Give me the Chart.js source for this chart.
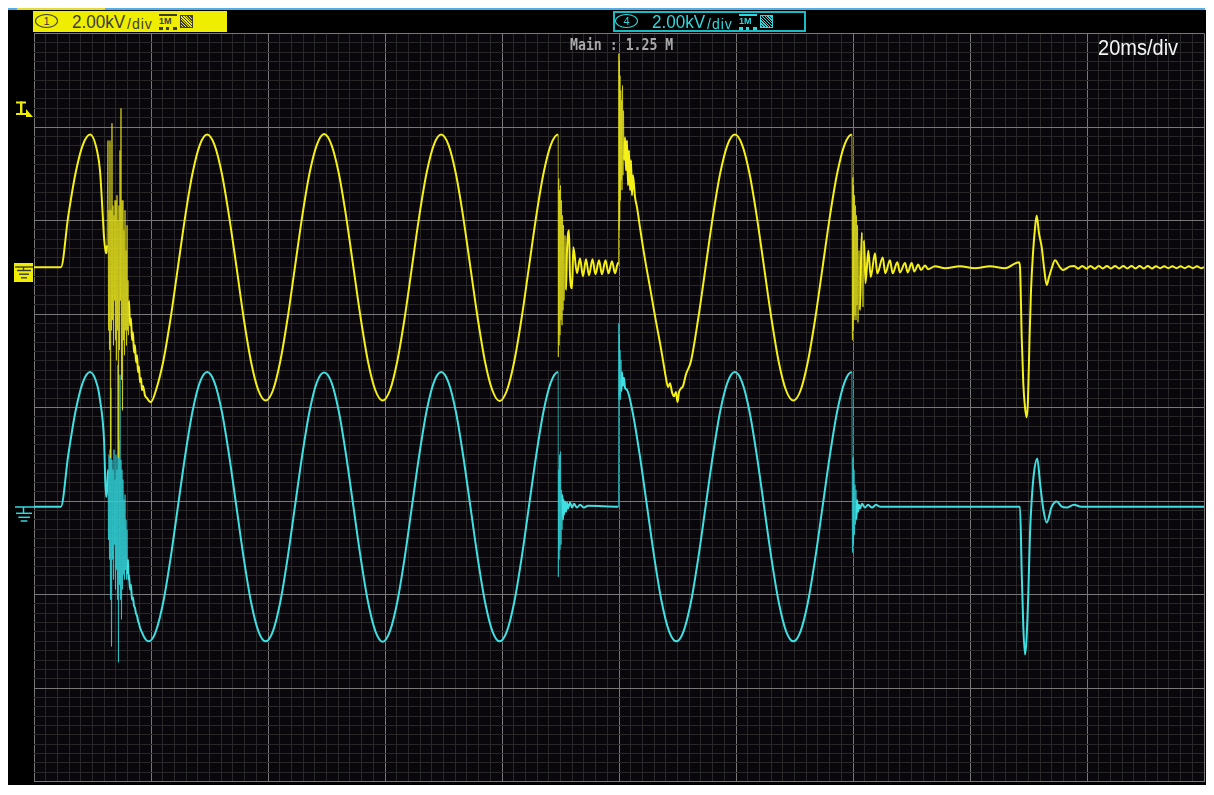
<!DOCTYPE html>
<html>
<head>
<meta charset="utf-8">
<script src="https://cdn.jsdelivr.net/npm/chart.js@4.4.1/dist/chart.umd.min.js"></script>
<style>
  html, body { margin: 0; padding: 0; background: #fff; }
  body { position: relative; width: 1214px; height: 795px; overflow: hidden; font-family: "Liberation Sans", Arial, sans-serif; }
  .abs { position: absolute; }
  #frame { left: 8px; top: 10px; width: 1198px; height: 775px; background: #000; }
  #topline { left: 8px; top: 8px; width: 1197px; height: 2px; background: #55ade6; }
  #topline1 { left: 17px; top: 8px; width: 88px; height: 2px; background: #e4dc3c; }
  #wrap { left: 0; top: 0; width: 1214px; height: 795px; }
  .chbox { top: 11px; height: 21px; z-index: 2; }
  .chbox span { position: absolute; white-space: nowrap; }
  .ch1 { left: 33px; width: 194px; background: #f0ee00; color: #3c3c3c; }
  .ch4 { left: 613px; width: 193px; box-shadow: inset 0 0 0 2px #19bcc4; color: #30d8de; }
  .circ { left: 2px; top: 3px; width: 21px; height: 12px; border: 1.5px solid currentColor; border-radius: 50%;
          font-size: 11px; line-height: 12px; text-align: center; }
  .vdiv { left: 39px; top: 1px; font-size: 19px; line-height: 19px; transform: scaleX(0.9); transform-origin: left; }
  .per { left: 94px; top: 6px; font-size: 14px; line-height: 14px; letter-spacing: 1px; }
  .imp { left: 126px; top: 3px; width: 18px; height: 11px; font-size: 9px; font-weight: bold; line-height: 11px;
         border-top: 2px solid currentColor; border-bottom: 3px dotted currentColor; text-align: left; }
  .bw { left: 147px; top: 4px; width: 11px; height: 11px; border: 1px solid currentColor;
        background: repeating-linear-gradient(45deg, currentColor 0 1px, transparent 1px 2px); }
  #mainlbl { left: 570px; top: 38px; font-family: "DejaVu Sans Mono", monospace; font-weight: bold; font-size: 15px;
             line-height: 15px; color: #a8a8a8; transform: scaleX(0.88); transform-origin: left; z-index: 2; white-space: pre; }
  #tdiv { left: 1098px; top: 37px; font-size: 22px; line-height: 22px; color: #f4f4f4;
          transform: scaleX(0.91); transform-origin: left; z-index: 2; }
  #marks { left: 0; top: 0; z-index: 2; }
</style>
</head>
<body>
<div id="frame" class="abs"></div>
<div id="topline" class="abs"></div>
<div id="topline1" class="abs"></div>
<div id="wrap" class="abs"><canvas id="scope"></canvas></div>

<div class="abs chbox ch1"><span class="circ">1</span><span class="vdiv">2.00kV</span><span class="per">/div</span><span class="imp">1M</span><span class="bw"></span></div>
<div class="abs chbox ch4"><span class="circ">4</span><span class="vdiv">2.00kV</span><span class="per">/div</span><span class="imp">1M</span><span class="bw"></span></div>
<div id="mainlbl" class="abs">Main : 1.25 M</div>
<div id="tdiv" class="abs">20ms/div</div>

<svg id="marks" class="abs" width="34" height="795">
  <!-- trigger level -->
  <g fill="#f0ee00">
    <rect x="16" y="101.5" width="10" height="2"/>
    <rect x="20" y="101.5" width="2.4" height="13"/>
    <rect x="16" y="113" width="12" height="2"/>
    <polygon points="26,109 26,117 33,117"/>
  </g>
  <!-- CH1 ground -->
  <rect x="14" y="263" width="19" height="19" fill="#f0ee00"/>
  <g stroke="#3a3a3a" stroke-width="1.4">
    <line x1="15" y1="267" x2="33" y2="267"/>
    <line x1="23.5" y1="267" x2="23.5" y2="270"/>
    <line x1="17" y1="270.5" x2="31" y2="270.5"/>
    <line x1="19" y1="274.2" x2="29" y2="274.2"/>
    <line x1="21" y1="277.8" x2="27" y2="277.8"/>
  </g>
  <!-- CH4 ground -->
  <g stroke="#30d8de" stroke-width="1.5">
    <line x1="15" y1="507" x2="34" y2="507"/>
    <line x1="23.5" y1="507" x2="23.5" y2="513"/>
    <line x1="16" y1="513.3" x2="32" y2="513.3"/>
    <line x1="18.3" y1="517.3" x2="30" y2="517.3"/>
    <line x1="20.7" y1="521" x2="27.3" y2="521"/>
  </g>
</svg>

<script>
// scope settings
const timePerDiv = 20;   // ms/div
const voltsPerDiv = 2;   // kV/div
const hDivs = 10;
const vDivs = 8;
const ch1Position = 1.5;   // div above centre
const ch4Position = -1.06;

// CH1 (yellow) : [ms, kV]
const ch1Trace = [
  [0, 0], [4.6, 0],
  // first half cycle before the arc
  [5.85, 1.09], [7.1, 2.01], [8.35, 2.62], [9.6, 2.84], [10.85, 2.45], [11.28, 2.07], [11.8, 1.0], [11.97, 0.64], [12.31, 0.3], [12.48, 0.47],
  // arc burst
  [12.65, 2.71], [12.74, -1.35], [12.82, 1.22], [12.91, -1.77], [12.99, 2.71], [13.08, -4.08], [13.16, 1.22], [13.25, -1.35],
  [13.33, 3.08], [13.42, -1.13], [13.5, 1.32], [13.59, -1.67], [13.68, 1.11], [13.76, -0.71], [13.85, 1.43], [13.93, -1.56],
  [14.02, 1.43], [14.1, -1.99], [14.19, 1.54], [14.27, -1.35], [14.36, 1.0], [14.44, -4.08], [14.53, 1.32], [14.62, -1.77],
  [14.7, 2.5], [14.79, -0.71], [14.87, 3.4], [14.96, -2.41], [15.04, 1.43], [15.13, -3.06], [15.21, 1.43], [15.3, -1.56],
  [15.38, 0.79], [15.47, -1.88], [15.56, 1.22], [15.64, -1.35], [15.73, 0.36], [15.81, -1.67], [15.9, 0.9], [15.98, -1.35],
  [16.07, -0.28], [16.15, -1.45], [16.24, -0.71], [16.41, -1.24],
  [16.58, -1.09], [16.75, -1.56], [16.92, -1.39], [17.09, -1.82], [17.26, -1.67], [17.44, -2.03], [17.61, -1.88], [17.78, -2.24],
  [17.95, -2.12], [18.12, -2.46], [18.29, -2.37], [18.46, -2.63], [18.63, -2.54], [18.97, -2.74], [19.32, -2.8], [19.66, -2.86], [20.0, -2.88],
  // steady 50 Hz
  [20.85, -2.63], [22.1, -2.01], [23.35, -1.09], [24.6, 0], [25.85, 1.09], [27.1, 2.01], [28.35, 2.62], [29.6, 2.84],
  [30.85, 2.62], [32.1, 2.01], [33.35, 1.09], [34.6, 0.02], [35.85, -1.09], [37.1, -2.02], [38.35, -2.63], [39.6, -2.85],
  [40.85, -2.63], [42.1, -2.01], [43.35, -1.09], [44.6, 0], [45.85, 1.09], [47.1, 2.01], [48.35, 2.62], [49.6, 2.85],
  [50.85, 2.62], [52.1, 2.01], [53.35, 1.09], [54.6, 0], [55.85, -1.09], [57.1, -2.02], [58.35, -2.63], [59.6, -2.85],
  [60.85, -2.63], [62.1, -2.01], [63.35, -1.09], [64.6, 0], [65.85, 1.09], [67.1, 2.01], [68.35, 2.62], [69.6, 2.84],
  [70.85, 2.62], [72.1, 2.01], [73.35, 1.09], [74.6, 0], [75.85, -1.09], [77.1, -2.02], [78.35, -2.63], [79.6, -2.86],
  [80.85, -2.63], [82.1, -2.01], [83.35, -1.09], [84.6, 0], [85.85, 1.09], [87.1, 2.01], [88.35, 2.62], [89.6, 2.84],
  // opening + ringing
  [89.63, -1.92], [89.7, 1.9], [89.76, -1.67], [89.83, 1.65], [89.91, -1.45], [90.0, 1.75], [90.09, -1.13], [90.17, 1.43],
  [90.26, -1.24], [90.34, 1.11], [90.43, -0.92], [90.51, 0.9], [90.6, -0.71], [90.77, 0.68], [90.94, -0.49], [91.11, 0.36],
  [91.45, 0.79], [91.62, -0.17], [91.97, -0.45], [92.19, 0.43], [92.82, -0.13],
  [93.33, 0.19], [93.85, -0.19], [94.36, 0.17], [94.87, -0.17], [95.47, 0.17], [95.98, -0.15], [96.58, 0.15], [97.09, -0.15],
  [97.69, 0.15], [98.21, -0.13], [98.8, 0.13], [99.32, -0.13], [99.83, 0.09], [99.91, 0.06],
  // reclose
  [99.97, 4.57], [100.02, 0.79], [100.07, 4.42], [100.12, 1.0], [100.17, 4.1], [100.24, 1.43], [100.31, 3.78], [100.38, 1.86],
  [100.44, 3.57], [100.51, 1.65], [100.6, 3.89], [100.68, 1.97], [100.77, 3.35], [100.85, 2.29], [101.03, 2.78], [101.2, 2.07],
  [101.37, 2.71], [101.54, 1.75], [101.71, 2.5], [101.88, 1.65], [102.05, 2.29], [102.22, 1.54], [102.39, 1.97], [102.74, 1.5],
  [103.08, 1.28], [103.59, 0.85], [104.1, 0.43], [104.62, 0.04], [105.3, -0.43], [105.98, -0.92], [106.5, -1.28], [107.01, -1.62],
  [107.52, -1.99], [108.03, -2.37], [108.38, -2.56], [108.72, -2.48], [109.06, -2.67], [109.4, -2.76], [109.74, -2.67], [110.0, -2.88],
  [110.26, -2.67], [110.6, -2.59], [110.94, -2.54], [111.45, -2.29],
  [112.3, -2.01], [113.55, -1.09], [114.8, 0], [116.05, 1.09], [117.3, 2.01], [118.55, 2.62], [119.8, 2.84],
  [121.05, 2.62], [122.3, 2.01], [123.55, 1.09], [124.8, 0], [126.05, -1.09], [127.3, -2.02], [128.55, -2.63], [129.8, -2.85],
  [131.05, -2.63], [132.3, -2.01], [133.55, -1.09], [134.8, 0], [136.05, 1.09], [137.3, 2.01], [138.55, 2.62], [139.8, 2.84],
  // second opening
  [139.9, -1.56], [139.97, 1.92], [140.03, -1.35], [140.1, 1.75], [140.17, -1.13], [140.26, 1.54], [140.34, -1.03], [140.43, 1.32],
  [140.51, -1.13], [140.6, 1.11], [140.68, -0.81], [140.77, 0.9], [140.85, -1.18], [141.03, 0.36], [141.2, -0.92], [141.49, 0.75],
  [141.71, -0.85], [141.88, 0.58], [142.14, -0.34], [142.62, 0.36], [143.03, -0.21], [143.76, 0.3], [144.15, -0.13], [145.08, 0.21],
  [145.52, -0.13], [146.32, 0.15], [146.79, -0.13], [147.57, 0.11], [148.03, -0.11], [148.89, 0.09], [149.35, -0.11], [150.03, 0.09],
  [150.48, -0.09], [151.16, 0.06], [151.62, -0.06], [152.31, 0.04], [152.82, -0.04], [154.02, 0.02], [155.73, -0.02], [158.29, 0.02],
  [160.85, -0.02], [163.42, 0.02], [165.98, -0.02], [168.38, 0.11],
  // transient
  [168.55, 0], [168.84, -1.5], [169.11, -2.48], [169.4, -2.99], [169.69, -3.21], [169.91, -2.84], [170.17, -1.56], [170.43, -0.49],
  [170.77, 0.3], [171.11, 0.83], [171.4, 1.11], [171.79, 0.73], [172.26, 0.43], [172.65, 0], [173.11, -0.38], [173.5, -0.21],
  [173.97, -0.02], [174.53, 0.15], [175.38, 0], [175.9, -0.06], [177.09, 0.02],
  // residual ripple
  [177.8, 0.03], [178.5, -0.03], [179.2, 0.03], [179.9, -0.03], [180.6, 0.03], [181.3, -0.03], [182.0, 0.025], [182.7, -0.025],
  [183.4, 0.025], [184.1, -0.025], [184.8, 0.025], [185.5, -0.025], [186.2, 0.025], [186.9, -0.025], [187.6, 0.025], [188.3, -0.025],
  [189.0, 0.025], [189.7, -0.025], [190.4, 0.025], [191.1, -0.025], [191.8, 0.02], [192.5, -0.02], [193.2, 0.02], [193.9, -0.02],
  [194.6, 0.02], [195.3, -0.02], [196.0, 0.02], [196.7, -0.02], [197.4, 0.02], [198.1, -0.02], [198.8, 0.02], [199.5, -0.02], [200, 0]
];

// CH4 (cyan) : [ms, kV]
const ch4Trace = [
  [0, 0], [4.6, 0],
  [5.85, 1.1], [7.1, 2.04], [8.35, 2.66], [9.6, 2.88], [10.85, 2.58], [11.28, 2.29], [11.97, 1.43], [12.31, 0.21], [12.48, 0.32],
  // arc burst
  [12.65, 0.79], [12.74, -0.71], [12.82, 1.11], [12.91, -1.13], [12.99, 1.22], [13.08, -1.99], [13.16, 2.54], [13.25, -2.99],
  [13.33, 1.0], [13.42, -1.13], [13.5, 0.79], [13.59, -1.56], [13.68, 1.22], [13.76, -0.81], [13.85, 0.58], [13.93, -1.77],
  [14.02, 1.11], [14.1, -1.35], [14.19, 0.79], [14.27, -1.99], [14.36, 3.03], [14.44, -3.33], [14.53, 1.43], [14.62, -1.67],
  [14.7, 2.82], [14.79, -1.99], [14.87, 1.0], [14.96, -2.41], [15.04, 0.79], [15.13, -1.77], [15.21, 0.58], [15.3, -1.45],
  [15.38, 0.15], [15.47, -1.56], [15.56, 0.26], [15.64, -1.35], [15.73, -0.28], [15.81, -1.56], [15.9, -0.49], [15.98, -1.45],
  [16.07, -1.13], [16.15, -1.56], [16.24, -1.45], [16.41, -1.77],
  [16.58, -1.67], [16.75, -1.99], [16.92, -1.94], [17.09, -2.12], [17.26, -2.16], [17.44, -2.29], [17.61, -2.33], [17.78, -2.44],
  [17.95, -2.5], [18.12, -2.59], [18.46, -2.69], [18.97, -2.82], [19.49, -2.88], [20.0, -2.86],
  // steady 50 Hz
  [20.85, -2.66], [22.1, -2.04], [23.35, -1.1], [24.6, 0], [25.85, 1.1], [27.1, 2.04], [28.35, 2.66], [29.6, 2.88],
  [30.85, 2.66], [32.1, 2.04], [33.35, 1.1], [34.6, 0], [35.85, -1.1], [37.1, -2.04], [38.35, -2.66], [39.6, -2.88],
  [40.85, -2.66], [42.1, -2.04], [43.35, -1.1], [44.6, 0], [45.85, 1.1], [47.1, 2.04], [48.35, 2.66], [49.6, 2.87],
  [50.85, 2.66], [52.1, 2.04], [53.35, 1.1], [54.6, 0], [55.85, -1.1], [57.1, -2.04], [58.35, -2.66], [59.6, -2.89],
  [60.85, -2.66], [62.1, -2.04], [63.35, -1.1], [64.6, 0], [65.85, 1.1], [67.1, 2.04], [68.35, 2.66], [69.6, 2.88],
  [70.85, 2.66], [72.1, 2.04], [73.35, 1.1], [74.6, 0], [75.85, -1.1], [77.1, -2.04], [78.35, -2.66], [79.6, -2.88],
  [80.85, -2.66], [82.1, -2.04], [83.35, -1.1], [84.6, 0], [85.85, 1.1], [87.1, 2.04], [88.35, 2.66], [89.6, 2.88],
  // opening
  [89.63, -1.5], [89.7, 0.79], [89.76, -1.13], [89.83, 1.11], [89.91, -0.92], [90.0, 1.18], [90.09, -0.81], [90.17, 0.36],
  [90.26, -0.49], [90.34, 0.26], [90.43, -0.28], [90.51, 0.15], [90.6, -0.17], [90.77, 0.11], [90.94, -0.11], [91.11, 0.09],
  [91.28, -0.04], [91.62, 0.09], [91.97, -0.02], [92.31, 0.06], [92.82, -0.02], [93.33, 0.04], [94.02, -0.02], [94.7, 0.02],
  [99.91, 0],
  // reclose
  [99.97, 3.93], [100.02, 2.29], [100.07, 3.68], [100.12, 2.39], [100.17, 3.35], [100.26, 2.29], [100.34, 3.14], [100.43, 2.46],
  [100.51, 2.88], [100.68, 2.59], [100.85, 2.76], [101.03, 2.54], [101.37, 2.5],
  [102.3, 2.04], [103.55, 1.1], [104.8, 0], [106.05, -1.1], [107.3, -2.04], [108.55, -2.66], [109.8, -2.88],
  [111.05, -2.66], [112.3, -2.04], [113.55, -1.1], [114.8, 0], [116.05, 1.1], [117.3, 2.04], [118.55, 2.66], [119.8, 2.88],
  [121.05, 2.66], [122.3, 2.04], [123.55, 1.1], [124.8, 0], [126.05, -1.1], [127.3, -2.04], [128.55, -2.66], [129.8, -2.88],
  [131.05, -2.66], [132.3, -2.04], [133.55, -1.1], [134.8, 0], [136.05, 1.1], [137.3, 2.04], [138.55, 2.66], [139.8, 2.88],
  // second opening
  [139.91, -0.98], [140.0, 1.05], [140.09, -0.81], [140.17, 0.79], [140.26, -0.6], [140.34, 0.47], [140.43, -0.38], [140.51, 0.36],
  [140.6, -0.28], [140.68, 0.15], [140.85, -0.11], [141.03, 0.04], [141.2, -0.04], [141.54, 0.06], [142.05, -0.02], [142.56, 0.04],
  [143.25, -0.02], [143.93, 0.04], [144.62, 0], [168.55, 0],
  // transient
  [168.84, -1.41], [169.11, -2.56], [169.4, -3.16], [169.66, -2.84], [169.97, -1.84], [170.26, -0.56], [170.55, 0.15], [170.94, 0.73],
  [171.5, 1.03], [171.97, 0.51], [172.54, -0.06], [173.11, -0.34], [173.97, 0], [174.82, 0.11], [175.68, 0], [176.55, -0.02],
  [177.78, 0.04], [179.0, 0], [200, 0]
];

const ch1Color = "#f4f018";
const ch1Dim = "rgba(225, 222, 30, 0.75)";
const ch4Color = "#40e0e2";
const ch4Dim = "rgba(50, 210, 215, 0.75)";
const majorGrid = "#787878";
const minorGrid = "#282828";

var Scope;

function toPoints(trace) {
  return trace.map(p => ({ x: p[0], y: p[1] }));
}

// near-vertical strokes (arc noise, switching edges) are drawn thin
function isSpike(c) {
  var dx = Math.abs(c.p1.x - c.p0.x);
  var dy = Math.abs(c.p1.y - c.p0.y);
  return dy > 50 * Math.max(dx, 0.01);
}

function channelAxis(pos) {
  var half = vDivs / 2 * voltsPerDiv;
  return {
    type: "linear",
    display: false,
    min: -half - pos * voltsPerDiv,
    max: half - pos * voltsPerDiv,
  };
}

function traceDataset(label, trace, axis, color, dim) {
  return {
    label: label,
    data: toPoints(trace),
    yAxisID: axis,
    borderColor: color,
    borderWidth: 2,
    pointRadius: 0,
    cubicInterpolationMode: "monotone",
    segment: {
      borderWidth: c => (isSpike(c) ? 1 : 2),
      borderColor: c => (isSpike(c) ? dim : undefined),
    },
  };
}

// dark screen behind the graticule
const screenBg = {
  id: "screenBg",
  beforeDraw(chart) {
    var a = chart.chartArea;
    var g = chart.ctx;
    g.save();
    g.fillStyle = "#0a070c";
    g.fillRect(a.left, a.top, a.right - a.left, a.bottom - a.top);
    g.restore();
  },
};

function loadScope() {
  var config = {
    type: "line",
    data: {
      datasets: [
        traceDataset("CH1", ch1Trace, "y1", ch1Color, ch1Dim),
        traceDataset("CH4", ch4Trace, "y4", ch4Color, ch4Dim),
      ],
    },
    options: {
      responsive: true,
      maintainAspectRatio: false,
      animation: false,
      events: [],
      layout: {
        padding: { left: 34, right: 10, top: 33.5, bottom: 13.4 },
      },
      scales: {
        x: {
          type: "linear",
          min: 0,
          max: hDivs * timePerDiv,
          ticks: { display: false, stepSize: timePerDiv / 10 },
          grid: {
            drawTicks: false,
            color: c => (c.tick && c.tick.value % timePerDiv === 0 ? majorGrid : minorGrid),
          },
          border: { display: false },
        },
        // graticule in 1/10 div steps
        y: {
          type: "linear",
          min: -vDivs / 2 * 10,
          max: vDivs / 2 * 10,
          ticks: { display: false, stepSize: 1 },
          grid: {
            drawTicks: false,
            color: c => (c.tick && c.tick.value % 10 === 0 ? majorGrid : minorGrid),
          },
          border: { display: false },
        },
        y1: channelAxis(ch1Position),
        y4: channelAxis(ch4Position),
      },
      plugins: {
        legend: { display: false },
        tooltip: { enabled: false },
      },
    },
    plugins: [screenBg],
  };

  return config;
}

function initchart() {
  var ctx = document.getElementById("scope");
  Scope = new Chart(ctx, loadScope());
}

initchart();
</script>
</body>
</html>
